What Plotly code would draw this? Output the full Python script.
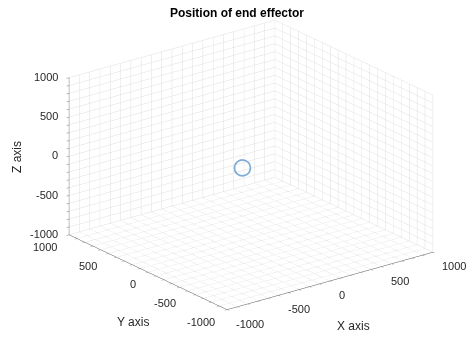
import plotly.graph_objects as go
import numpy as np

# Data
x_pos = [-50]
y_pos = [50]
z_pos = [-40]

axis_min, axis_max = -1000, 1000
grid_vals = list(range(-1000, 1001, 100))
label_vals = [-1000, -500, 0, 500, 1000]

FONT = "Liberation Sans"
TXT = "#262626"

fig = go.Figure()
fig.add_trace(go.Scatter3d(
    x=x_pos, y=y_pos, z=z_pos, mode="markers",
    marker=dict(symbol="circle-open", size=10, color="#7fadd8"),
    showlegend=False, hoverinfo="skip",
))

def ax():
    return dict(
        title=dict(text=""),
        range=[axis_min, axis_max], autorange=False,
        tickvals=grid_vals, showticklabels=False,
        showgrid=True, gridcolor="#dedede", gridwidth=1,
        showbackground=True, backgroundcolor="white",
        showline=True, linecolor="#555555", linewidth=1,
        ticks="outside", ticklen=3, tickcolor="#777777",
        zeroline=False, showspikes=False,
    )

annots = []
for v in label_vals:
    # Z tick labels on the left vertical edge
    annots.append(dict(x=axis_min, y=axis_max, z=v, text=str(v), showarrow=False,
                       xanchor="right", yanchor="middle", xshift=-9, yshift=1,
                       font=dict(family=FONT, size=11, color=TXT)))
    # Y tick labels along the left floor edge
    annots.append(dict(x=axis_min, y=v, z=axis_min, text=str(v), showarrow=False,
                       xanchor="right", yanchor="top", xshift=-10, yshift=-4,
                       font=dict(family=FONT, size=11, color=TXT)))
    # X tick labels along the right floor edge
    annots.append(dict(x=v, y=axis_min, z=axis_min, text=str(v), showarrow=False,
                       xanchor="left", yanchor="top", xshift=7, yshift=-6,
                       font=dict(family=FONT, size=11, color=TXT)))

r = 2.0
az = np.deg2rad(-37.5)
el = np.deg2rad(20)
eye = dict(x=r*np.sin(az)*np.cos(el), y=-r*np.cos(az)*np.cos(el), z=r*np.sin(el))

s = 1.5
fig.update_layout(
    width=474, height=346,
    margin=dict(l=0, r=0, t=0, b=0),
    paper_bgcolor="white",
    title=dict(text="<b>Position of end effector</b>", x=0.5, xanchor="center", y=0.975, yanchor="top",
               font=dict(family=FONT, size=12, color="black")),
    scene=dict(
        xaxis=ax(), yaxis=ax(), zaxis=ax(),
        aspectmode="manual", aspectratio=dict(x=s, y=s, z=0.65*s),
        camera=dict(eye=eye, up=dict(x=0, y=0, z=1), center=dict(x=0, y=0, z=-0.05),
                    projection=dict(type="orthographic")),
        bgcolor="white",
        domain=dict(x=[0.06, 1], y=[0.0, 1]),
        annotations=annots,
    ),
    annotations=[
        dict(text="Z axis", x=17/474, y=1-157/346, xref="paper", yref="paper", textangle=-90,
             showarrow=False, xanchor="center", yanchor="middle", font=dict(family=FONT, size=12, color=TXT)),
        dict(text="Y axis", x=133/474, y=1-322/346, xref="paper", yref="paper",
             showarrow=False, xanchor="center", yanchor="middle", font=dict(family=FONT, size=12, color=TXT)),
        dict(text="X axis", x=353/474, y=1-326/346, xref="paper", yref="paper",
             showarrow=False, xanchor="center", yanchor="middle", font=dict(family=FONT, size=12, color=TXT)),
    ],
)

fig.write_html("out.html")
